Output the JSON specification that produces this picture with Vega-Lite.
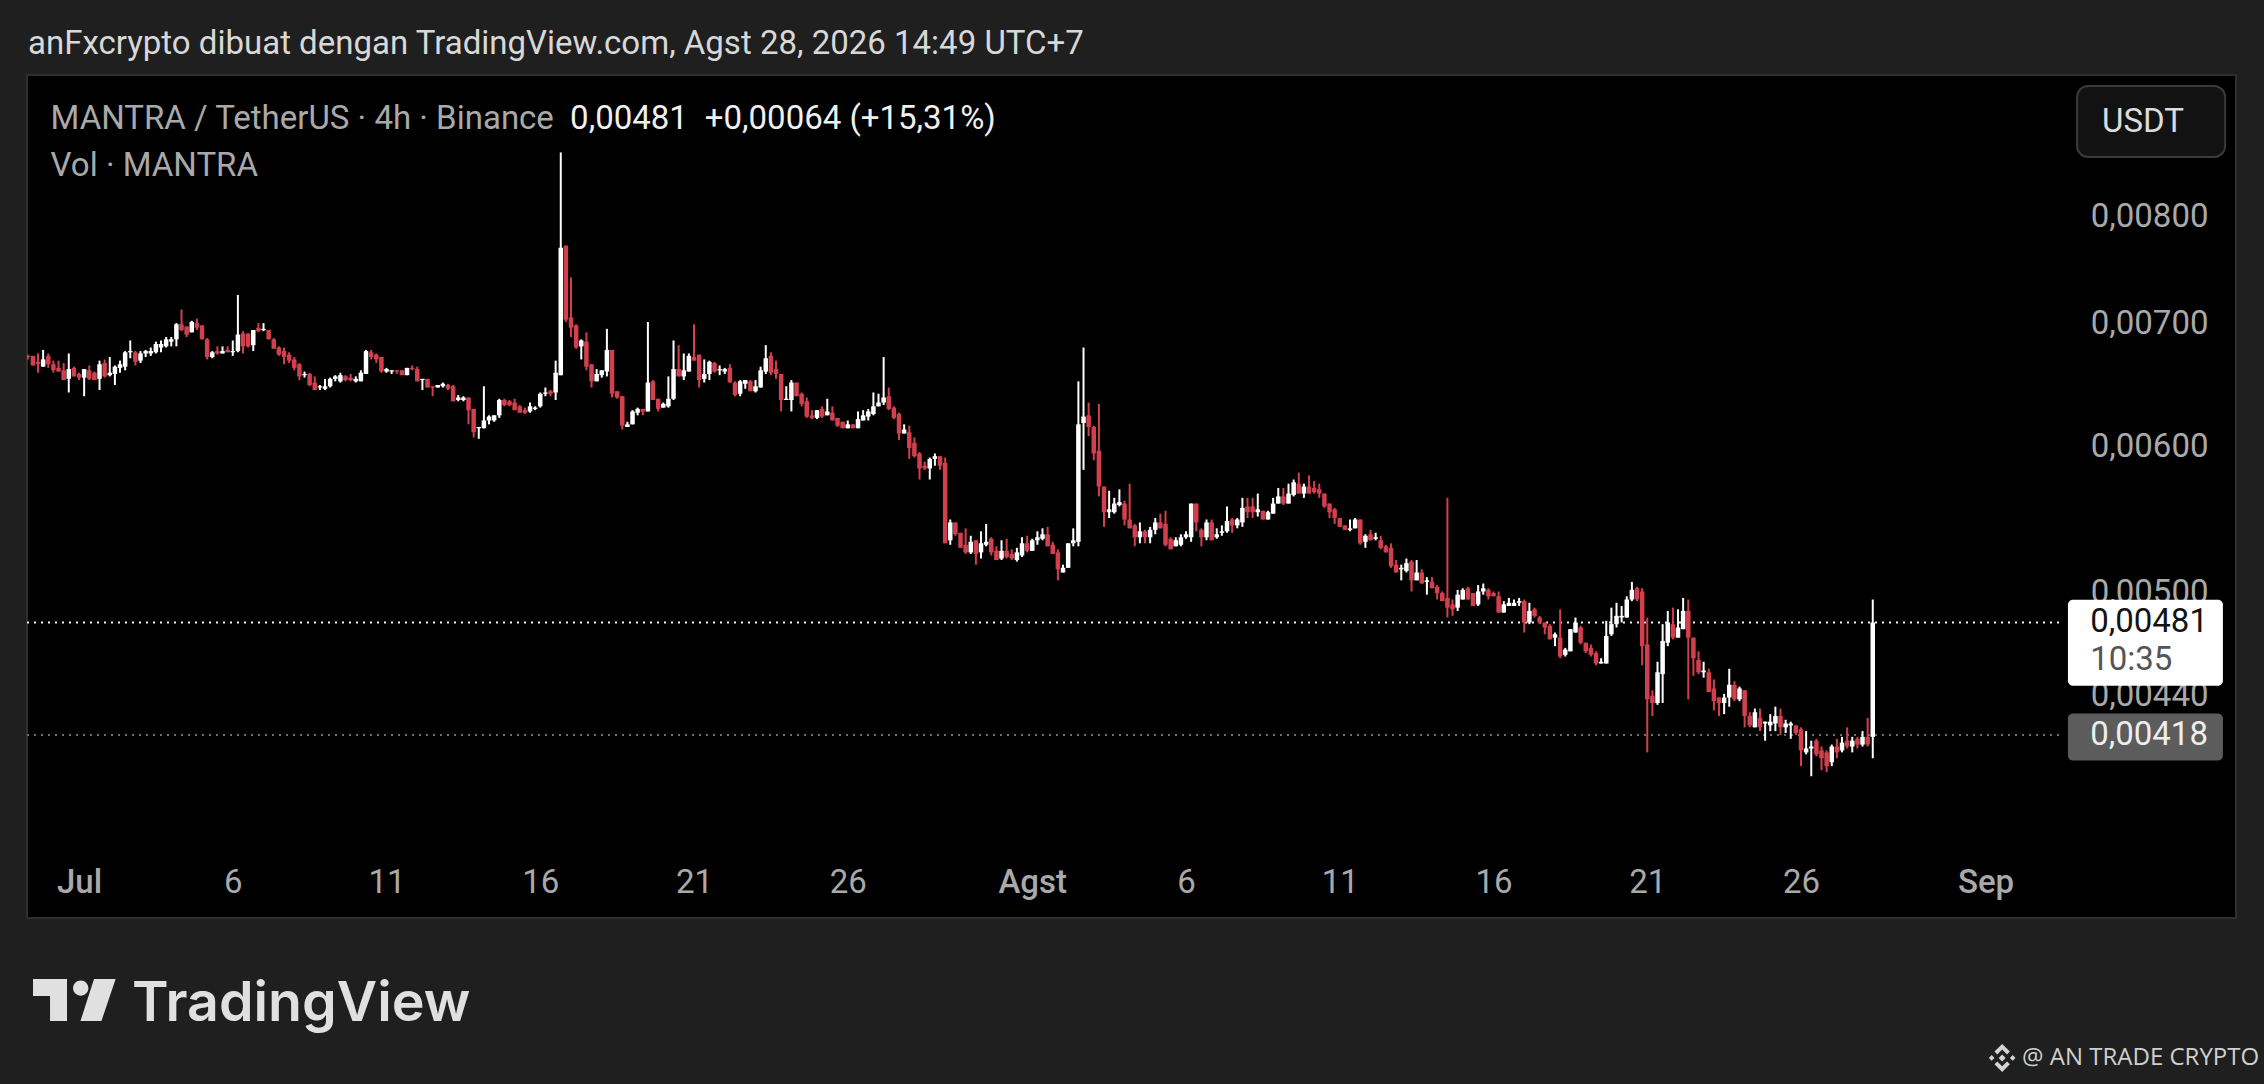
{
"$schema":"https://vega.github.io/schema/vega-lite/v6.json",
"autosize":{"type":"none"},
"width":2209,
"height":843,
"padding":{"left":27,"top":75,"right":28,"bottom":166},
"background":"#1f1f1f",
"view":{"fill":"#000000","stroke":"#2e2e2e","strokeWidth":2},
"title":{"text":"anFxcrypto dibuat dengan TradingView.com, Agst 28, 2026 14:49 UTC+7","anchor":"start","frame":"group","font":"Roboto","fontSize":33,"fontWeight":400,"color":"#d8d8d8","baseline":"alphabetic","offset":-12,"dx":1},
"config":{"font":"Roboto"},
"datasets":{"candles":[
{"t":"2026-06-29T11:00","o":0.00671,"h":0.00672,"l":0.00668,"c":0.0067},
{"t":"2026-06-29T15:00","o":0.00671,"h":0.00671,"l":0.00663,"c":0.00663},
{"t":"2026-06-29T19:00","o":0.00666,"h":0.00673,"l":0.00657,"c":0.00664},
{"t":"2026-06-29T23:00","o":0.00662,"h":0.00676,"l":0.00662,"c":0.00668},
{"t":"2026-06-30T03:00","o":0.00671,"h":0.00673,"l":0.00661,"c":0.00664},
{"t":"2026-06-30T07:00","o":0.00664,"h":0.00667,"l":0.00657,"c":0.00659},
{"t":"2026-06-30T11:00","o":0.00661,"h":0.00667,"l":0.00658,"c":0.00658},
{"t":"2026-06-30T15:00","o":0.00659,"h":0.00665,"l":0.00651,"c":0.00651},
{"t":"2026-06-30T19:00","o":0.00652,"h":0.00673,"l":0.00641,"c":0.0066},
{"t":"2026-06-30T23:00","o":0.00661,"h":0.00662,"l":0.00654,"c":0.00654},
{"t":"2026-07-01T03:00","o":0.00656,"h":0.00657,"l":0.00651,"c":0.00653},
{"t":"2026-07-01T07:00","o":0.00653,"h":0.0066,"l":0.00638,"c":0.0066},
{"t":"2026-07-01T11:00","o":0.00659,"h":0.00663,"l":0.00651,"c":0.00652},
{"t":"2026-07-01T15:00","o":0.00657,"h":0.00658,"l":0.00651,"c":0.00651},
{"t":"2026-07-01T19:00","o":0.00652,"h":0.00667,"l":0.00643,"c":0.00664},
{"t":"2026-07-01T23:00","o":0.00665,"h":0.00668,"l":0.00653,"c":0.00654},
{"t":"2026-07-02T03:00","o":0.00655,"h":0.0067,"l":0.00654,"c":0.00657},
{"t":"2026-07-02T07:00","o":0.00656,"h":0.00663,"l":0.00647,"c":0.00662},
{"t":"2026-07-02T11:00","o":0.00661,"h":0.00667,"l":0.00657,"c":0.00664},
{"t":"2026-07-02T15:00","o":0.00662,"h":0.00675,"l":0.00659,"c":0.00674},
{"t":"2026-07-02T19:00","o":0.00674,"h":0.00684,"l":0.00669,"c":0.00675},
{"t":"2026-07-02T23:00","o":0.00674,"h":0.00675,"l":0.00663,"c":0.00666},
{"t":"2026-07-03T03:00","o":0.00667,"h":0.00675,"l":0.00665,"c":0.00673},
{"t":"2026-07-03T07:00","o":0.00673,"h":0.00676,"l":0.0067,"c":0.00675},
{"t":"2026-07-03T11:00","o":0.00673,"h":0.00678,"l":0.00671,"c":0.00675},
{"t":"2026-07-03T15:00","o":0.00674,"h":0.00683,"l":0.00673,"c":0.00681},
{"t":"2026-07-03T19:00","o":0.00678,"h":0.00684,"l":0.00674,"c":0.00681},
{"t":"2026-07-03T23:00","o":0.00679,"h":0.00687,"l":0.00678,"c":0.00685},
{"t":"2026-07-04T03:00","o":0.00683,"h":0.00687,"l":0.00679,"c":0.00685},
{"t":"2026-07-04T07:00","o":0.00685,"h":0.00699,"l":0.00679,"c":0.00698},
{"t":"2026-07-04T11:00","o":0.00698,"h":0.00711,"l":0.00692,"c":0.00693},
{"t":"2026-07-04T15:00","o":0.00696,"h":0.00696,"l":0.00687,"c":0.00689},
{"t":"2026-07-04T19:00","o":0.00691,"h":0.00701,"l":0.00691,"c":0.007},
{"t":"2026-07-04T23:00","o":0.00699,"h":0.00703,"l":0.00693,"c":0.00695},
{"t":"2026-07-05T03:00","o":0.00697,"h":0.00697,"l":0.00685,"c":0.00685},
{"t":"2026-07-05T07:00","o":0.00685,"h":0.00686,"l":0.00668,"c":0.0067},
{"t":"2026-07-05T11:00","o":0.0067,"h":0.00675,"l":0.00669,"c":0.00674},
{"t":"2026-07-05T15:00","o":0.00675,"h":0.00679,"l":0.00672,"c":0.00673},
{"t":"2026-07-05T19:00","o":0.00673,"h":0.00679,"l":0.00673,"c":0.00675},
{"t":"2026-07-05T23:00","o":0.00676,"h":0.00679,"l":0.00674,"c":0.00674},
{"t":"2026-07-06T03:00","o":0.00674,"h":0.00684,"l":0.00671,"c":0.00675},
{"t":"2026-07-06T07:00","o":0.00675,"h":0.00724,"l":0.00674,"c":0.00689},
{"t":"2026-07-06T11:00","o":0.0069,"h":0.00692,"l":0.00673,"c":0.00679},
{"t":"2026-07-06T15:00","o":0.0069,"h":0.0069,"l":0.00678,"c":0.00679},
{"t":"2026-07-06T19:00","o":0.0068,"h":0.00693,"l":0.00675,"c":0.00693},
{"t":"2026-07-06T23:00","o":0.00695,"h":0.00699,"l":0.00691,"c":0.00692},
{"t":"2026-07-07T03:00","o":0.00693,"h":0.00699,"l":0.00692,"c":0.00694},
{"t":"2026-07-07T07:00","o":0.00693,"h":0.00693,"l":0.00685,"c":0.00685},
{"t":"2026-07-07T11:00","o":0.00685,"h":0.00686,"l":0.00677,"c":0.00677},
{"t":"2026-07-07T15:00","o":0.00678,"h":0.00679,"l":0.00671,"c":0.00672},
{"t":"2026-07-07T19:00","o":0.00675,"h":0.00678,"l":0.00664,"c":0.0067},
{"t":"2026-07-07T23:00","o":0.00672,"h":0.00674,"l":0.00665,"c":0.00667},
{"t":"2026-07-08T03:00","o":0.00668,"h":0.0067,"l":0.00659,"c":0.00661},
{"t":"2026-07-08T07:00","o":0.00664,"h":0.00665,"l":0.00651,"c":0.00654},
{"t":"2026-07-08T11:00","o":0.00655,"h":0.00658,"l":0.00653,"c":0.00656},
{"t":"2026-07-08T15:00","o":0.00656,"h":0.00657,"l":0.00646,"c":0.00647},
{"t":"2026-07-08T19:00","o":0.00649,"h":0.00654,"l":0.00643,"c":0.00643},
{"t":"2026-07-08T23:00","o":0.00645,"h":0.00647,"l":0.00643,"c":0.00646},
{"t":"2026-07-09T03:00","o":0.00644,"h":0.00652,"l":0.00643,"c":0.00646},
{"t":"2026-07-09T07:00","o":0.00646,"h":0.00653,"l":0.00645,"c":0.00652},
{"t":"2026-07-09T11:00","o":0.00652,"h":0.00655,"l":0.0065,"c":0.00654},
{"t":"2026-07-09T15:00","o":0.0065,"h":0.00657,"l":0.00649,"c":0.00655},
{"t":"2026-07-09T19:00","o":0.00654,"h":0.00655,"l":0.0065,"c":0.00651},
{"t":"2026-07-09T23:00","o":0.00653,"h":0.00656,"l":0.0065,"c":0.00651},
{"t":"2026-07-10T03:00","o":0.0065,"h":0.00654,"l":0.00649,"c":0.00652},
{"t":"2026-07-10T07:00","o":0.0065,"h":0.00659,"l":0.0065,"c":0.00657},
{"t":"2026-07-10T11:00","o":0.00656,"h":0.00676,"l":0.00656,"c":0.00675},
{"t":"2026-07-10T15:00","o":0.00674,"h":0.00676,"l":0.00668,"c":0.0067},
{"t":"2026-07-10T19:00","o":0.00672,"h":0.00673,"l":0.00665,"c":0.00668},
{"t":"2026-07-10T23:00","o":0.0067,"h":0.0067,"l":0.00657,"c":0.00658},
{"t":"2026-07-11T03:00","o":0.00658,"h":0.00661,"l":0.00657,"c":0.0066},
{"t":"2026-07-11T07:00","o":0.00658,"h":0.00659,"l":0.00656,"c":0.00659},
{"t":"2026-07-11T11:00","o":0.00659,"h":0.00659,"l":0.00656,"c":0.00658},
{"t":"2026-07-11T15:00","o":0.00659,"h":0.00659,"l":0.00655,"c":0.00655},
{"t":"2026-07-11T19:00","o":0.00655,"h":0.00661,"l":0.00655,"c":0.00661},
{"t":"2026-07-11T23:00","o":0.00661,"h":0.00663,"l":0.00659,"c":0.0066},
{"t":"2026-07-12T03:00","o":0.0066,"h":0.00662,"l":0.0065,"c":0.0065},
{"t":"2026-07-12T07:00","o":0.00651,"h":0.00652,"l":0.00643,"c":0.00652},
{"t":"2026-07-12T11:00","o":0.00652,"h":0.00652,"l":0.00645,"c":0.00645},
{"t":"2026-07-12T15:00","o":0.00646,"h":0.00646,"l":0.00638,"c":0.00645},
{"t":"2026-07-12T19:00","o":0.00645,"h":0.00647,"l":0.00645,"c":0.00647},
{"t":"2026-07-12T23:00","o":0.00646,"h":0.00649,"l":0.00645,"c":0.00648},
{"t":"2026-07-13T03:00","o":0.00647,"h":0.00648,"l":0.00643,"c":0.00644},
{"t":"2026-07-13T07:00","o":0.00646,"h":0.00647,"l":0.00634,"c":0.00634},
{"t":"2026-07-13T11:00","o":0.00635,"h":0.00639,"l":0.00634,"c":0.00637},
{"t":"2026-07-13T15:00","o":0.00635,"h":0.00638,"l":0.00634,"c":0.00637},
{"t":"2026-07-13T19:00","o":0.00637,"h":0.00637,"l":0.00616,"c":0.00627},
{"t":"2026-07-13T23:00","o":0.00628,"h":0.00628,"l":0.00606,"c":0.0061},
{"t":"2026-07-14T03:00","o":0.00613,"h":0.00614,"l":0.00605,"c":0.00614},
{"t":"2026-07-14T07:00","o":0.00613,"h":0.00646,"l":0.00613,"c":0.00619},
{"t":"2026-07-14T11:00","o":0.00619,"h":0.00623,"l":0.00616,"c":0.00622},
{"t":"2026-07-14T15:00","o":0.00619,"h":0.00623,"l":0.00618,"c":0.00623},
{"t":"2026-07-14T19:00","o":0.00623,"h":0.00636,"l":0.00621,"c":0.00635},
{"t":"2026-07-14T23:00","o":0.00635,"h":0.00636,"l":0.0063,"c":0.00631},
{"t":"2026-07-15T03:00","o":0.00634,"h":0.00635,"l":0.0063,"c":0.00631},
{"t":"2026-07-15T07:00","o":0.00633,"h":0.00636,"l":0.00627,"c":0.00627},
{"t":"2026-07-15T11:00","o":0.0063,"h":0.00631,"l":0.00625,"c":0.00625},
{"t":"2026-07-15T15:00","o":0.00627,"h":0.00629,"l":0.00624,"c":0.00625},
{"t":"2026-07-15T19:00","o":0.00626,"h":0.00633,"l":0.00625,"c":0.0063},
{"t":"2026-07-15T23:00","o":0.00628,"h":0.0063,"l":0.00627,"c":0.00629},
{"t":"2026-07-16T03:00","o":0.0063,"h":0.00641,"l":0.00629,"c":0.0064},
{"t":"2026-07-16T07:00","o":0.0064,"h":0.00645,"l":0.00638,"c":0.00641},
{"t":"2026-07-16T11:00","o":0.00642,"h":0.00643,"l":0.00638,"c":0.0064},
{"t":"2026-07-16T15:00","o":0.00641,"h":0.00667,"l":0.00635,"c":0.00657},
{"t":"2026-07-16T19:00","o":0.00655,"h":0.00865,"l":0.00655,"c":0.00768},
{"t":"2026-07-16T23:00","o":0.0077,"h":0.0077,"l":0.007,"c":0.00702},
{"t":"2026-07-17T03:00","o":0.00704,"h":0.0074,"l":0.00687,"c":0.00695},
{"t":"2026-07-17T07:00","o":0.00697,"h":0.00698,"l":0.00677,"c":0.00678},
{"t":"2026-07-17T11:00","o":0.00679,"h":0.00685,"l":0.00668,"c":0.00684},
{"t":"2026-07-17T15:00","o":0.00683,"h":0.00691,"l":0.00659,"c":0.00662},
{"t":"2026-07-17T19:00","o":0.00664,"h":0.00664,"l":0.00645,"c":0.0065},
{"t":"2026-07-17T23:00","o":0.0065,"h":0.0066,"l":0.0065,"c":0.00656},
{"t":"2026-07-18T03:00","o":0.00655,"h":0.00659,"l":0.00653,"c":0.00659},
{"t":"2026-07-18T07:00","o":0.00658,"h":0.00694,"l":0.00654,"c":0.00676},
{"t":"2026-07-18T11:00","o":0.00676,"h":0.00676,"l":0.00637,"c":0.0064},
{"t":"2026-07-18T15:00","o":0.00642,"h":0.00642,"l":0.00636,"c":0.00637},
{"t":"2026-07-18T19:00","o":0.00638,"h":0.00638,"l":0.00612,"c":0.00615},
{"t":"2026-07-18T23:00","o":0.00614,"h":0.00618,"l":0.00614,"c":0.00616},
{"t":"2026-07-19T03:00","o":0.00616,"h":0.00627,"l":0.00616,"c":0.00626},
{"t":"2026-07-19T07:00","o":0.00625,"h":0.00629,"l":0.00623,"c":0.00628},
{"t":"2026-07-19T11:00","o":0.00628,"h":0.00628,"l":0.00623,"c":0.00626},
{"t":"2026-07-19T15:00","o":0.00626,"h":0.007,"l":0.00626,"c":0.00649},
{"t":"2026-07-19T19:00","o":0.0065,"h":0.00651,"l":0.00635,"c":0.00635},
{"t":"2026-07-19T23:00","o":0.00636,"h":0.00636,"l":0.00626,"c":0.00628},
{"t":"2026-07-20T03:00","o":0.00629,"h":0.00633,"l":0.00629,"c":0.00632},
{"t":"2026-07-20T07:00","o":0.0063,"h":0.00654,"l":0.00629,"c":0.00636},
{"t":"2026-07-20T11:00","o":0.00636,"h":0.00684,"l":0.00635,"c":0.0066},
{"t":"2026-07-20T15:00","o":0.0066,"h":0.0068,"l":0.00654,"c":0.00654},
{"t":"2026-07-20T19:00","o":0.00654,"h":0.00673,"l":0.00651,"c":0.00659},
{"t":"2026-07-20T23:00","o":0.00658,"h":0.00673,"l":0.00658,"c":0.00671},
{"t":"2026-07-21T03:00","o":0.0067,"h":0.00698,"l":0.00667,"c":0.00667},
{"t":"2026-07-21T07:00","o":0.00672,"h":0.00672,"l":0.00645,"c":0.00651},
{"t":"2026-07-21T11:00","o":0.00652,"h":0.00668,"l":0.00649,"c":0.00656},
{"t":"2026-07-21T15:00","o":0.00656,"h":0.00667,"l":0.00651,"c":0.00666},
{"t":"2026-07-21T19:00","o":0.00665,"h":0.00666,"l":0.00657,"c":0.00658},
{"t":"2026-07-21T23:00","o":0.00659,"h":0.00663,"l":0.00655,"c":0.0066},
{"t":"2026-07-22T03:00","o":0.00658,"h":0.00661,"l":0.00656,"c":0.0066},
{"t":"2026-07-22T07:00","o":0.00661,"h":0.00664,"l":0.00649,"c":0.00649},
{"t":"2026-07-22T11:00","o":0.00649,"h":0.0065,"l":0.00638,"c":0.00639},
{"t":"2026-07-22T15:00","o":0.0064,"h":0.00651,"l":0.00638,"c":0.0065},
{"t":"2026-07-22T19:00","o":0.00648,"h":0.00651,"l":0.00644,"c":0.00651},
{"t":"2026-07-22T23:00","o":0.0065,"h":0.00651,"l":0.00642,"c":0.00642},
{"t":"2026-07-23T03:00","o":0.00642,"h":0.00651,"l":0.00641,"c":0.00646},
{"t":"2026-07-23T07:00","o":0.00645,"h":0.00662,"l":0.00645,"c":0.00659},
{"t":"2026-07-23T11:00","o":0.00658,"h":0.0068,"l":0.00656,"c":0.00669},
{"t":"2026-07-23T15:00","o":0.00671,"h":0.00674,"l":0.00655,"c":0.00657},
{"t":"2026-07-23T19:00","o":0.0066,"h":0.00667,"l":0.00652,"c":0.00656},
{"t":"2026-07-23T23:00","o":0.00656,"h":0.00656,"l":0.00626,"c":0.00635},
{"t":"2026-07-24T03:00","o":0.00635,"h":0.00646,"l":0.00635,"c":0.00636},
{"t":"2026-07-24T07:00","o":0.00635,"h":0.00651,"l":0.00626,"c":0.00649},
{"t":"2026-07-24T11:00","o":0.00649,"h":0.00649,"l":0.00638,"c":0.00638},
{"t":"2026-07-24T15:00","o":0.0064,"h":0.00641,"l":0.0063,"c":0.00632},
{"t":"2026-07-24T19:00","o":0.00634,"h":0.00637,"l":0.00621,"c":0.00622},
{"t":"2026-07-24T23:00","o":0.00623,"h":0.00627,"l":0.0062,"c":0.00621},
{"t":"2026-07-25T03:00","o":0.00621,"h":0.00627,"l":0.0062,"c":0.00627},
{"t":"2026-07-25T07:00","o":0.00628,"h":0.0063,"l":0.00621,"c":0.00622},
{"t":"2026-07-25T11:00","o":0.00623,"h":0.00636,"l":0.00623,"c":0.00626},
{"t":"2026-07-25T15:00","o":0.00625,"h":0.0063,"l":0.00619,"c":0.00619},
{"t":"2026-07-25T19:00","o":0.00621,"h":0.00621,"l":0.00614,"c":0.00615},
{"t":"2026-07-25T23:00","o":0.00618,"h":0.00618,"l":0.00613,"c":0.00613},
{"t":"2026-07-26T03:00","o":0.00613,"h":0.00619,"l":0.00613,"c":0.00616},
{"t":"2026-07-26T07:00","o":0.00616,"h":0.00616,"l":0.00613,"c":0.00613},
{"t":"2026-07-26T11:00","o":0.00613,"h":0.00626,"l":0.00613,"c":0.0062},
{"t":"2026-07-26T15:00","o":0.00619,"h":0.00627,"l":0.00619,"c":0.00623},
{"t":"2026-07-26T19:00","o":0.00622,"h":0.00628,"l":0.00619,"c":0.00626},
{"t":"2026-07-26T23:00","o":0.00624,"h":0.00641,"l":0.00623,"c":0.0063},
{"t":"2026-07-27T03:00","o":0.0063,"h":0.0064,"l":0.0063,"c":0.00633},
{"t":"2026-07-27T07:00","o":0.00633,"h":0.0067,"l":0.00631,"c":0.00637},
{"t":"2026-07-27T11:00","o":0.00638,"h":0.00645,"l":0.00627,"c":0.00628},
{"t":"2026-07-27T15:00","o":0.00629,"h":0.0063,"l":0.0062,"c":0.00621},
{"t":"2026-07-27T19:00","o":0.00624,"h":0.00625,"l":0.00604,"c":0.00609},
{"t":"2026-07-27T23:00","o":0.00609,"h":0.00616,"l":0.00609,"c":0.00612},
{"t":"2026-07-28T03:00","o":0.0061,"h":0.00615,"l":0.0059,"c":0.00598},
{"t":"2026-07-28T07:00","o":0.00602,"h":0.00606,"l":0.00591,"c":0.00592},
{"t":"2026-07-28T11:00","o":0.00594,"h":0.00595,"l":0.00575,"c":0.00583},
{"t":"2026-07-28T15:00","o":0.00585,"h":0.00588,"l":0.00582,"c":0.00583},
{"t":"2026-07-28T19:00","o":0.00583,"h":0.00591,"l":0.00575,"c":0.0059},
{"t":"2026-07-28T23:00","o":0.0059,"h":0.00594,"l":0.00585,"c":0.00592},
{"t":"2026-07-29T03:00","o":0.00592,"h":0.00592,"l":0.00582,"c":0.00585},
{"t":"2026-07-29T07:00","o":0.00587,"h":0.00591,"l":0.00531,"c":0.00531},
{"t":"2026-07-29T11:00","o":0.00533,"h":0.00547,"l":0.0053,"c":0.00545},
{"t":"2026-07-29T15:00","o":0.00545,"h":0.00545,"l":0.00536,"c":0.00537},
{"t":"2026-07-29T19:00","o":0.00538,"h":0.00538,"l":0.00528,"c":0.00528},
{"t":"2026-07-29T23:00","o":0.0053,"h":0.00541,"l":0.00524,"c":0.00525},
{"t":"2026-07-30T03:00","o":0.00525,"h":0.00536,"l":0.00524,"c":0.00532},
{"t":"2026-07-30T07:00","o":0.00533,"h":0.00533,"l":0.00517,"c":0.00524},
{"t":"2026-07-30T11:00","o":0.00525,"h":0.00539,"l":0.00521,"c":0.00531},
{"t":"2026-07-30T15:00","o":0.0053,"h":0.00544,"l":0.00529,"c":0.00532},
{"t":"2026-07-30T19:00","o":0.00534,"h":0.00535,"l":0.00523,"c":0.00525},
{"t":"2026-07-30T23:00","o":0.00526,"h":0.00529,"l":0.0052,"c":0.0052},
{"t":"2026-07-31T03:00","o":0.00521,"h":0.00533,"l":0.0052,"c":0.00526},
{"t":"2026-07-31T07:00","o":0.00526,"h":0.00534,"l":0.00521,"c":0.00522},
{"t":"2026-07-31T11:00","o":0.00524,"h":0.00527,"l":0.0052,"c":0.00521},
{"t":"2026-07-31T15:00","o":0.0052,"h":0.00528,"l":0.00519,"c":0.00525},
{"t":"2026-07-31T19:00","o":0.00523,"h":0.00535,"l":0.00522,"c":0.00531},
{"t":"2026-07-31T23:00","o":0.00531,"h":0.00536,"l":0.00525,"c":0.00526},
{"t":"2026-08-01T03:00","o":0.00526,"h":0.00534,"l":0.00526,"c":0.00533},
{"t":"2026-08-01T07:00","o":0.00533,"h":0.00539,"l":0.0053,"c":0.00535},
{"t":"2026-08-01T11:00","o":0.00534,"h":0.00541,"l":0.00533,"c":0.00537},
{"t":"2026-08-01T15:00","o":0.00537,"h":0.00542,"l":0.00529,"c":0.00529},
{"t":"2026-08-01T19:00","o":0.0053,"h":0.00532,"l":0.00524,"c":0.00524},
{"t":"2026-08-01T23:00","o":0.00525,"h":0.00527,"l":0.00507,"c":0.00514},
{"t":"2026-08-02T03:00","o":0.00512,"h":0.00517,"l":0.00512,"c":0.00515},
{"t":"2026-08-02T07:00","o":0.00515,"h":0.00531,"l":0.00515,"c":0.00531},
{"t":"2026-08-02T11:00","o":0.00531,"h":0.00541,"l":0.00529,"c":0.00533},
{"t":"2026-08-02T15:00","o":0.00532,"h":0.0065,"l":0.00529,"c":0.00616},
{"t":"2026-08-02T19:00","o":0.00617,"h":0.00678,"l":0.00582,"c":0.00622},
{"t":"2026-08-02T23:00","o":0.00623,"h":0.00633,"l":0.00607,"c":0.00614},
{"t":"2026-08-03T03:00","o":0.00614,"h":0.00615,"l":0.00589,"c":0.00594},
{"t":"2026-08-03T07:00","o":0.00596,"h":0.00632,"l":0.00563,"c":0.0057},
{"t":"2026-08-03T11:00","o":0.0057,"h":0.0057,"l":0.00542,"c":0.00552},
{"t":"2026-08-03T15:00","o":0.00552,"h":0.00567,"l":0.00548,"c":0.00554},
{"t":"2026-08-03T19:00","o":0.00552,"h":0.00562,"l":0.00551,"c":0.00558},
{"t":"2026-08-03T23:00","o":0.00557,"h":0.00568,"l":0.00556,"c":0.00559},
{"t":"2026-08-04T03:00","o":0.00558,"h":0.0056,"l":0.00543,"c":0.00547},
{"t":"2026-08-04T07:00","o":0.00547,"h":0.00572,"l":0.00541,"c":0.00541},
{"t":"2026-08-04T11:00","o":0.00543,"h":0.00544,"l":0.00529,"c":0.00535},
{"t":"2026-08-04T15:00","o":0.00535,"h":0.00545,"l":0.00531,"c":0.00539},
{"t":"2026-08-04T19:00","o":0.00539,"h":0.0054,"l":0.00531,"c":0.00535},
{"t":"2026-08-04T23:00","o":0.00535,"h":0.00542,"l":0.00531,"c":0.0054},
{"t":"2026-08-05T03:00","o":0.0054,"h":0.00548,"l":0.00537,"c":0.00545},
{"t":"2026-08-05T07:00","o":0.00545,"h":0.00551,"l":0.00541,"c":0.00541},
{"t":"2026-08-05T11:00","o":0.00544,"h":0.00553,"l":0.00529,"c":0.0053},
{"t":"2026-08-05T15:00","o":0.00534,"h":0.00535,"l":0.00527,"c":0.00527},
{"t":"2026-08-05T19:00","o":0.00529,"h":0.00535,"l":0.00529,"c":0.00533},
{"t":"2026-08-05T23:00","o":0.0053,"h":0.00537,"l":0.00529,"c":0.00535},
{"t":"2026-08-06T03:00","o":0.00535,"h":0.00539,"l":0.00534,"c":0.00537},
{"t":"2026-08-06T07:00","o":0.00535,"h":0.00558,"l":0.00532,"c":0.00558},
{"t":"2026-08-06T11:00","o":0.00558,"h":0.00558,"l":0.00539,"c":0.00545},
{"t":"2026-08-06T15:00","o":0.0054,"h":0.00541,"l":0.00529,"c":0.00535},
{"t":"2026-08-06T19:00","o":0.00535,"h":0.00547,"l":0.00533,"c":0.00545},
{"t":"2026-08-06T23:00","o":0.00545,"h":0.00547,"l":0.00533,"c":0.00533},
{"t":"2026-08-07T03:00","o":0.00535,"h":0.00541,"l":0.00534,"c":0.00537},
{"t":"2026-08-07T07:00","o":0.00538,"h":0.00543,"l":0.00536,"c":0.00539},
{"t":"2026-08-07T11:00","o":0.00539,"h":0.00556,"l":0.00538,"c":0.00546},
{"t":"2026-08-07T15:00","o":0.00547,"h":0.00548,"l":0.00538,"c":0.00543},
{"t":"2026-08-07T19:00","o":0.00543,"h":0.00548,"l":0.00541,"c":0.00547},
{"t":"2026-08-07T23:00","o":0.00545,"h":0.00562,"l":0.00542,"c":0.00555},
{"t":"2026-08-08T03:00","o":0.00556,"h":0.00562,"l":0.00548,"c":0.00552},
{"t":"2026-08-08T07:00","o":0.00556,"h":0.00562,"l":0.00548,"c":0.00552},
{"t":"2026-08-08T11:00","o":0.00552,"h":0.00565,"l":0.00549,"c":0.00554},
{"t":"2026-08-08T15:00","o":0.00553,"h":0.00553,"l":0.00547,"c":0.00547},
{"t":"2026-08-08T19:00","o":0.00547,"h":0.00553,"l":0.00547,"c":0.00552},
{"t":"2026-08-08T23:00","o":0.00551,"h":0.00562,"l":0.00551,"c":0.00558},
{"t":"2026-08-09T03:00","o":0.00558,"h":0.00569,"l":0.00558,"c":0.00563},
{"t":"2026-08-09T07:00","o":0.00563,"h":0.00569,"l":0.00557,"c":0.00558},
{"t":"2026-08-09T11:00","o":0.00558,"h":0.00572,"l":0.00558,"c":0.00565},
{"t":"2026-08-09T15:00","o":0.00564,"h":0.00575,"l":0.00563,"c":0.00573},
{"t":"2026-08-09T19:00","o":0.00572,"h":0.0058,"l":0.00565,"c":0.00565},
{"t":"2026-08-09T23:00","o":0.00565,"h":0.00572,"l":0.00562,"c":0.0057},
{"t":"2026-08-10T03:00","o":0.0057,"h":0.00578,"l":0.00565,"c":0.00565},
{"t":"2026-08-10T07:00","o":0.00569,"h":0.00574,"l":0.00565,"c":0.00566},
{"t":"2026-08-10T11:00","o":0.00568,"h":0.00572,"l":0.00562,"c":0.00565},
{"t":"2026-08-10T15:00","o":0.00565,"h":0.00565,"l":0.00555,"c":0.00556},
{"t":"2026-08-10T19:00","o":0.00558,"h":0.00558,"l":0.00548,"c":0.00552},
{"t":"2026-08-10T23:00","o":0.00554,"h":0.00555,"l":0.00544,"c":0.00548},
{"t":"2026-08-11T03:00","o":0.00548,"h":0.00548,"l":0.00542,"c":0.00542},
{"t":"2026-08-11T07:00","o":0.00543,"h":0.00543,"l":0.0054,"c":0.0054},
{"t":"2026-08-11T11:00","o":0.0054,"h":0.00547,"l":0.00539,"c":0.00541},
{"t":"2026-08-11T15:00","o":0.00541,"h":0.00548,"l":0.00541,"c":0.00547},
{"t":"2026-08-11T19:00","o":0.00547,"h":0.00547,"l":0.0053,"c":0.00531},
{"t":"2026-08-11T23:00","o":0.00532,"h":0.00537,"l":0.00528,"c":0.00536},
{"t":"2026-08-12T03:00","o":0.00537,"h":0.0054,"l":0.00533,"c":0.00533},
{"t":"2026-08-12T07:00","o":0.00534,"h":0.00538,"l":0.00533,"c":0.00535},
{"t":"2026-08-12T11:00","o":0.00533,"h":0.00536,"l":0.00527,"c":0.00528},
{"t":"2026-08-12T15:00","o":0.00529,"h":0.0053,"l":0.00525,"c":0.00525},
{"t":"2026-08-12T19:00","o":0.00528,"h":0.00531,"l":0.00515,"c":0.00516},
{"t":"2026-08-12T23:00","o":0.00517,"h":0.0052,"l":0.00512,"c":0.00512},
{"t":"2026-08-13T03:00","o":0.00514,"h":0.00517,"l":0.00507,"c":0.00515},
{"t":"2026-08-13T07:00","o":0.00513,"h":0.00521,"l":0.00512,"c":0.00518},
{"t":"2026-08-13T11:00","o":0.00519,"h":0.0052,"l":0.005,"c":0.00507},
{"t":"2026-08-13T15:00","o":0.00507,"h":0.0052,"l":0.00507,"c":0.00512},
{"t":"2026-08-13T19:00","o":0.00512,"h":0.00514,"l":0.00505,"c":0.00505},
{"t":"2026-08-13T23:00","o":0.00506,"h":0.00509,"l":0.00498,"c":0.00507},
{"t":"2026-08-14T03:00","o":0.00506,"h":0.00509,"l":0.00502,"c":0.00502},
{"t":"2026-08-14T07:00","o":0.00503,"h":0.00504,"l":0.00495,"c":0.00499},
{"t":"2026-08-14T11:00","o":0.00499,"h":0.005,"l":0.00494,"c":0.00494},
{"t":"2026-08-14T15:00","o":0.00496,"h":0.00562,"l":0.00484,"c":0.0049},
{"t":"2026-08-14T19:00","o":0.00492,"h":0.00495,"l":0.00485,"c":0.00489},
{"t":"2026-08-14T23:00","o":0.0049,"h":0.00501,"l":0.00488,"c":0.00498},
{"t":"2026-08-15T03:00","o":0.00495,"h":0.00502,"l":0.00495,"c":0.00501},
{"t":"2026-08-15T07:00","o":0.00502,"h":0.00503,"l":0.00495,"c":0.00495},
{"t":"2026-08-15T11:00","o":0.00499,"h":0.00499,"l":0.00491,"c":0.00491},
{"t":"2026-08-15T15:00","o":0.00492,"h":0.00504,"l":0.00491,"c":0.005},
{"t":"2026-08-15T19:00","o":0.005,"h":0.00505,"l":0.00498,"c":0.00502},
{"t":"2026-08-15T23:00","o":0.00501,"h":0.00502,"l":0.00495,"c":0.00497},
{"t":"2026-08-16T03:00","o":0.00499,"h":0.005,"l":0.00497,"c":0.00497},
{"t":"2026-08-16T07:00","o":0.00497,"h":0.005,"l":0.00487,"c":0.00487},
{"t":"2026-08-16T11:00","o":0.00487,"h":0.00494,"l":0.00487,"c":0.00492},
{"t":"2026-08-16T15:00","o":0.00491,"h":0.00496,"l":0.00491,"c":0.00493},
{"t":"2026-08-16T19:00","o":0.00491,"h":0.00495,"l":0.00491,"c":0.00493},
{"t":"2026-08-16T23:00","o":0.00493,"h":0.00496,"l":0.00491,"c":0.00494},
{"t":"2026-08-17T03:00","o":0.00494,"h":0.00495,"l":0.00475,"c":0.00481},
{"t":"2026-08-17T07:00","o":0.00481,"h":0.00493,"l":0.0048,"c":0.00488},
{"t":"2026-08-17T11:00","o":0.00489,"h":0.0049,"l":0.00484,"c":0.00485},
{"t":"2026-08-17T15:00","o":0.00484,"h":0.00485,"l":0.0048,"c":0.00481},
{"t":"2026-08-17T19:00","o":0.00481,"h":0.00481,"l":0.00474,"c":0.00478},
{"t":"2026-08-17T23:00","o":0.00479,"h":0.0048,"l":0.00471,"c":0.00471},
{"t":"2026-08-18T03:00","o":0.00472,"h":0.00475,"l":0.00467,"c":0.00474},
{"t":"2026-08-18T07:00","o":0.00472,"h":0.00489,"l":0.0046,"c":0.00461},
{"t":"2026-08-18T11:00","o":0.00462,"h":0.00466,"l":0.00461,"c":0.00465},
{"t":"2026-08-18T15:00","o":0.00464,"h":0.00477,"l":0.00464,"c":0.00477},
{"t":"2026-08-18T19:00","o":0.00475,"h":0.00484,"l":0.00475,"c":0.00481},
{"t":"2026-08-18T23:00","o":0.00478,"h":0.00479,"l":0.00468,"c":0.00469},
{"t":"2026-08-19T03:00","o":0.00469,"h":0.00469,"l":0.00463,"c":0.00464},
{"t":"2026-08-19T07:00","o":0.00466,"h":0.00468,"l":0.00461,"c":0.00462},
{"t":"2026-08-19T11:00","o":0.00463,"h":0.00464,"l":0.00456,"c":0.00457},
{"t":"2026-08-19T15:00","o":0.00457,"h":0.0046,"l":0.00457,"c":0.00458},
{"t":"2026-08-19T19:00","o":0.00457,"h":0.00482,"l":0.00457,"c":0.00473},
{"t":"2026-08-19T23:00","o":0.00474,"h":0.0049,"l":0.00473,"c":0.0048},
{"t":"2026-08-20T03:00","o":0.0048,"h":0.00493,"l":0.00478,"c":0.00485},
{"t":"2026-08-20T07:00","o":0.00484,"h":0.00491,"l":0.00481,"c":0.00485},
{"t":"2026-08-20T11:00","o":0.00484,"h":0.00497,"l":0.00484,"c":0.00495},
{"t":"2026-08-20T15:00","o":0.00495,"h":0.00506,"l":0.00494,"c":0.00501},
{"t":"2026-08-20T19:00","o":0.00502,"h":0.00503,"l":0.00494,"c":0.00495},
{"t":"2026-08-20T23:00","o":0.005,"h":0.00502,"l":0.00456,"c":0.00467},
{"t":"2026-08-21T03:00","o":0.00468,"h":0.00484,"l":0.00409,"c":0.00437},
{"t":"2026-08-21T07:00","o":0.00439,"h":0.00442,"l":0.00428,"c":0.00435},
{"t":"2026-08-21T11:00","o":0.00435,"h":0.00458,"l":0.00434,"c":0.00452},
{"t":"2026-08-21T15:00","o":0.00451,"h":0.0048,"l":0.00435,"c":0.0047},
{"t":"2026-08-21T19:00","o":0.00469,"h":0.00488,"l":0.00467,"c":0.00481},
{"t":"2026-08-21T23:00","o":0.0048,"h":0.0049,"l":0.00471,"c":0.00472},
{"t":"2026-08-22T03:00","o":0.00472,"h":0.00489,"l":0.00472,"c":0.00478},
{"t":"2026-08-22T07:00","o":0.00477,"h":0.00496,"l":0.00477,"c":0.00488},
{"t":"2026-08-22T11:00","o":0.00488,"h":0.00495,"l":0.00437,"c":0.00472},
{"t":"2026-08-22T15:00","o":0.00472,"h":0.00472,"l":0.0045,"c":0.0046},
{"t":"2026-08-22T19:00","o":0.00459,"h":0.00464,"l":0.00451,"c":0.00452},
{"t":"2026-08-22T23:00","o":0.00452,"h":0.00458,"l":0.00449,"c":0.00453},
{"t":"2026-08-23T03:00","o":0.00452,"h":0.00454,"l":0.00441,"c":0.00441},
{"t":"2026-08-23T07:00","o":0.00443,"h":0.00448,"l":0.00431,"c":0.00436},
{"t":"2026-08-23T11:00","o":0.00438,"h":0.00438,"l":0.00428,"c":0.00435},
{"t":"2026-08-23T15:00","o":0.00435,"h":0.0044,"l":0.00429,"c":0.00438},
{"t":"2026-08-23T19:00","o":0.00438,"h":0.00454,"l":0.00433,"c":0.00445},
{"t":"2026-08-23T23:00","o":0.00445,"h":0.00447,"l":0.00436,"c":0.00437},
{"t":"2026-08-24T03:00","o":0.00437,"h":0.00444,"l":0.00436,"c":0.00443},
{"t":"2026-08-24T07:00","o":0.00442,"h":0.00442,"l":0.00422,"c":0.00428},
{"t":"2026-08-24T11:00","o":0.00428,"h":0.0043,"l":0.00422,"c":0.00423},
{"t":"2026-08-24T15:00","o":0.00422,"h":0.00432,"l":0.00422,"c":0.0043},
{"t":"2026-08-24T19:00","o":0.00427,"h":0.00432,"l":0.0042,"c":0.00422},
{"t":"2026-08-24T23:00","o":0.00424,"h":0.00425,"l":0.00415,"c":0.00425},
{"t":"2026-08-25T03:00","o":0.00423,"h":0.00429,"l":0.0042,"c":0.00425},
{"t":"2026-08-25T07:00","o":0.00424,"h":0.00433,"l":0.0042,"c":0.00428},
{"t":"2026-08-25T11:00","o":0.00428,"h":0.00432,"l":0.00418,"c":0.00422},
{"t":"2026-08-25T15:00","o":0.00422,"h":0.00426,"l":0.00419,"c":0.00424},
{"t":"2026-08-25T19:00","o":0.00423,"h":0.00425,"l":0.00416,"c":0.00424},
{"t":"2026-08-25T23:00","o":0.00423,"h":0.00423,"l":0.00418,"c":0.00419},
{"t":"2026-08-26T03:00","o":0.00421,"h":0.00422,"l":0.00402,"c":0.0041},
{"t":"2026-08-26T07:00","o":0.00409,"h":0.0042,"l":0.00408,"c":0.00411},
{"t":"2026-08-26T11:00","o":0.00411,"h":0.00415,"l":0.00397,"c":0.00412},
{"t":"2026-08-26T15:00","o":0.00415,"h":0.00416,"l":0.00407,"c":0.00408},
{"t":"2026-08-26T19:00","o":0.0041,"h":0.00412,"l":0.004,"c":0.00406},
{"t":"2026-08-26T23:00","o":0.00409,"h":0.0041,"l":0.00399,"c":0.00402},
{"t":"2026-08-27T03:00","o":0.00404,"h":0.00413,"l":0.00402,"c":0.00412},
{"t":"2026-08-27T07:00","o":0.00412,"h":0.00416,"l":0.00406,"c":0.00409},
{"t":"2026-08-27T11:00","o":0.0041,"h":0.00417,"l":0.00409,"c":0.00414},
{"t":"2026-08-27T15:00","o":0.00415,"h":0.00422,"l":0.00411,"c":0.00412},
{"t":"2026-08-27T19:00","o":0.00412,"h":0.00417,"l":0.00409,"c":0.00415},
{"t":"2026-08-27T23:00","o":0.00416,"h":0.00417,"l":0.00411,"c":0.00413},
{"t":"2026-08-28T03:00","o":0.00413,"h":0.0042,"l":0.00412,"c":0.00417},
{"t":"2026-08-28T07:00","o":0.00417,"h":0.00427,"l":0.00412,"c":0.00413},
{"t":"2026-08-28T11:00","o":0.00417,"h":0.00495,"l":0.00406,"c":0.00481}
]},
"encoding":{
"x":{"field":"t","type":"temporal","scale":{"domain":["2026-06-29T10:24","2026-09-09T06:30"],"padding":0},"axis":{"title":null,"grid":false,"domain":false,"ticks":false,"values":["2026-07-01T03:00","2026-07-06T03:00","2026-07-11T03:00","2026-07-16T03:00","2026-07-21T03:00","2026-07-26T03:00","2026-08-01T03:00","2026-08-06T03:00","2026-08-11T03:00","2026-08-16T03:00","2026-08-21T03:00","2026-08-26T03:00","2026-09-01T03:00"],"labelExpr":"date(datum.value)==1 ? (month(datum.value)==6 ? 'Jul' : month(datum.value)==7 ? 'Agst' : 'Sep') : date(datum.value)","labelFont":"Roboto","labelFontSize":33,"labelColor":"#a9a9a9","labelFontWeight":{"condition":{"test":"date(datum.value)==1","value":500},"value":400},"labelBaseline":"middle","labelPadding":-36,"labelOverlap":false,"labelFlush":false}},
"y":{"field":"p","type":"quantitative","scale":{"type":"log","domain":[0.003326,0.009528]},"axis":{"title":null,"orient":"right","grid":false,"domain":false,"ticks":false,"values":[0.008,0.007,0.006,0.005,0.0044],"labelExpr":"replace(format(datum.value,'.5f'),'.',',')","labelFont":"Roboto","labelFontSize":33,"labelColor":"#a9a9a9","labelAlign":"right","labelBaseline":"middle","labelPadding":-28,"labelOffset":1.5,"labelOverlap":false,"labelFlush":false}}
},
"layer":[
{"data":{"values":[{"t":"2026-06-29T10:24","t2":"2026-09-03T14:45","p":0.00481}]},"mark":{"type":"rule","color":"#f2f2f2","strokeWidth":2,"strokeDash":[2,5]},"encoding":{"x2":{"field":"t2"}}},
{"data":{"values":[{"t":"2026-06-29T10:24","t2":"2026-09-03T14:45","p":0.00418}]},"mark":{"type":"rule","color":"#6f6f6f","strokeWidth":2,"strokeDash":[2,5]},"encoding":{"x2":{"field":"t2"}}},
{"data":{"name":"candles"},"mark":{"type":"rule","strokeWidth":2,"clip":true},"encoding":{"y":{"field":"l","type":"quantitative","scale":{"type":"log","domain":[0.003326,0.009528]},"axis":{"title":null,"orient":"right","grid":false,"domain":false,"ticks":false,"values":[0.008,0.007,0.006,0.005,0.0044],"labelExpr":"replace(format(datum.value,'.5f'),'.',',')","labelFont":"Roboto","labelFontSize":33,"labelColor":"#a9a9a9","labelAlign":"right","labelBaseline":"middle","labelPadding":-28,"labelOffset":1.5,"labelOverlap":false,"labelFlush":false}},"y2":{"field":"h"},"color":{"condition":{"test":"datum.c>=datum.o","value":"#ffffff"},"value":"#d2404e"}}},
{"data":{"name":"candles"},"mark":{"type":"bar","size":4.5,"clip":true},"encoding":{"y":{"field":"o","type":"quantitative","scale":{"type":"log","domain":[0.003326,0.009528]},"axis":{"title":null,"orient":"right","grid":false,"domain":false,"ticks":false,"values":[0.008,0.007,0.006,0.005,0.0044],"labelExpr":"replace(format(datum.value,'.5f'),'.',',')","labelFont":"Roboto","labelFontSize":33,"labelColor":"#a9a9a9","labelAlign":"right","labelBaseline":"middle","labelPadding":-28,"labelOffset":1.5,"labelOverlap":false,"labelFlush":false}},"y2":{"field":"c"},"color":{"condition":{"test":"datum.c>=datum.o","value":"#ffffff"},"value":"#d2404e"}}},
{"data":{"values":[{"t":"2026-09-03T19:20","t2":"2026-09-08T20:17","p":0.004948,"p2":0.004445}]},"mark":{"type":"rect","color":"#ffffff","cornerRadius":5},"encoding":{"x2":{"field":"t2"},"y2":{"field":"p2"}}},
{"data":{"values":[{"t":"2026-09-03T19:20","t2":"2026-09-08T20:17","p":0.004294,"p2":0.004049}]},"mark":{"type":"rect","color":"#5c5c5c","cornerRadius":5},"encoding":{"x2":{"field":"t2"},"y2":{"field":"p2"}}},
{"data":{"values":[{"t":"2026-09-04T02:30","t2":"2026-09-08T22:00","p":0.009398,"p2":0.008601}]},"mark":{"type":"rect","color":"#121212","stroke":"#3a3a3a","strokeWidth":2,"cornerRadius":11},"encoding":{"x2":{"field":"t2"},"y2":{"field":"p2"}}},
{"data":{"values":[{"t":"2026-09-06T05:54","p":0.00899,"s":"USDT"}]},"mark":{"type":"text","font":"Roboto","fontSize":33,"color":"#dcdcdc","align":"center","baseline":"middle"},"encoding":{"text":{"field":"s"}}},
{"data":{"values":[{"t":"2026-09-04T12:40","p":0.004812,"s":"0,00481"}]},"mark":{"type":"text","font":"Roboto","fontSize":33,"color":"#131313","align":"left","baseline":"middle"},"encoding":{"text":{"field":"s"}}},
{"data":{"values":[{"t":"2026-09-04T12:40","p":0.004589,"s":"10:35"}]},"mark":{"type":"text","font":"Roboto","fontSize":33,"color":"#555555","align":"left","baseline":"middle"},"encoding":{"text":{"field":"s"}}},
{"data":{"values":[{"t":"2026-09-04T12:40","p":0.004178,"s":"0,00418"}]},"mark":{"type":"text","font":"Roboto","fontSize":33,"color":"#eeeeee","align":"left","baseline":"middle"},"encoding":{"text":{"field":"s"}}},
{"data":{"values":[{"t":"2026-06-30T04:48","p":0.009024,"s":"MANTRA / TetherUS · 4h · Binance"},{"t":"2026-06-30T04:48","p":0.0085,"s":"Vol · MANTRA"}]},"mark":{"type":"text","font":"Roboto","fontSize":33,"color":"#a9a9a9","align":"left","baseline":"middle"},"encoding":{"text":{"field":"s"}}},
{"data":{"values":[{"t":"2026-07-17T02:18","p":0.009024,"s":"0,00481"},{"t":"2026-07-21T11:24","p":0.009024,"s":"+0,00064 (+15,31%)"}]},"mark":{"type":"text","font":"Roboto","fontSize":33,"color":"#f0f0f0","align":"left","baseline":"middle"},"encoding":{"text":{"field":"s"}}},
{"data":{"values":[{"t":"2026-06-30T23:20","p":0.003002}]},"mark":{"type":"point","filled":true,"opacity":1,"color":"#e0e0e0","size":6823,"shape":"M-1 -.508L-.177 -.508L-.177 .508L-.588 .508L-.588 -.097L-1 -.097ZM-.031 -.29A.186 .186 0 1 0 .341 -.29A.186 .186 0 1 0 -.031 -.29ZM.477 -.508L1 -.508L.656 .508L.148 .508Z"}},
{"data":{"values":[{"t":"2026-07-02T20:24","p":0.002924,"s":"TradingView"}]},"mark":{"type":"text","font":"Inter","fontSize":55.5,"fontWeight":600,"color":"#e0e0e0","align":"left","baseline":"alphabetic"},"encoding":{"text":{"field":"s"}}},
{"data":{"values":[{"t":"2026-09-01T16:00","p":0.002793}]},"mark":{"type":"point","filled":true,"opacity":1,"color":"#d4d4d4","size":784,"shape":"M0 -.25L.25 0L0 .25L-.25 0ZM-.75 -.2L-.55 0L-.75 .2L-.95 0ZM.75 -.2L.95 0L.75 .2L.55 0ZM0 -1L.55 -.45L.35 -.25L0 -.6L-.35 -.25L-.55 -.45ZM0 1L-.55 .45L-.35 .25L0 .6L.35 .25L.55 .45Z"}},
{"data":{"values":[{"t":"2026-09-02T07:30","p":0.002793,"s":"@ AN TRADE CRYPTO"}]},"mark":{"type":"text","font":"Open Sans","fontSize":24,"color":"#cfcfcf","align":"left","baseline":"middle"},"encoding":{"text":{"field":"s"}}}
]
}
